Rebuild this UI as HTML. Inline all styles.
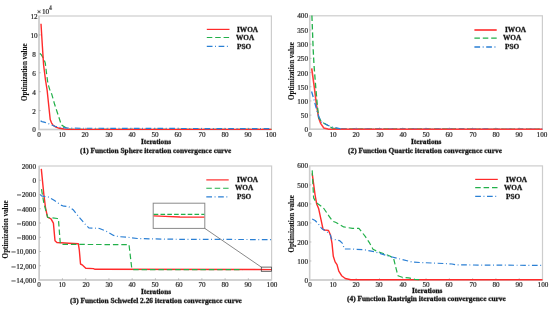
<!DOCTYPE html>
<html><head><meta charset="utf-8"><style>
html,body{margin:0;padding:0;background:#fff;overflow:hidden;width:550px;height:309px;}
#fig{position:relative;width:550px;height:309px;overflow:hidden;}
svg text{font-family:"Liberation Serif", "Times New Roman", serif;fill:#111;}
svg text.t{fill:#262626;stroke:#262626;stroke-width:0.06px;}
svg text.b{font-weight:bold;stroke:#111;stroke-width:0.3px;}
.hb,.ht{position:absolute;white-space:nowrap;font-family:"Liberation Serif", "Times New Roman", serif;line-height:10px;height:10px;will-change:transform;}
.hb{font-weight:bold;color:#111;-webkit-text-stroke:0.3px #111;}
.ht{color:#1e1e1e;-webkit-text-stroke:0.2px #1e1e1e;}
.mn{font-weight:bold;position:relative;top:-1.5px;margin-left:-0.6px;margin-right:0.9px;-webkit-text-stroke:0.35px #262626;}
</style></head><body>
<div id="fig">
<svg width="550" height="309" viewBox="0 0 550 309" style="position:absolute;left:0;top:0">
<rect width="550" height="309" fill="#fff"/>
<rect x="39.0" y="16.0" width="232.40" height="113.50" fill="none" stroke="#cdcdcd" stroke-width="1.2"/>
<path d="M39.0,16.0 V129.5 H271.4" fill="none" stroke="#cdcdcd" stroke-width="1.5"/>
<line x1="62.24" y1="129.5" x2="62.24" y2="127.7" stroke="#aaa" stroke-width="0.7"/>
<line x1="85.48" y1="129.5" x2="85.48" y2="127.7" stroke="#aaa" stroke-width="0.7"/>
<line x1="108.72" y1="129.5" x2="108.72" y2="127.7" stroke="#aaa" stroke-width="0.7"/>
<line x1="131.96" y1="129.5" x2="131.96" y2="127.7" stroke="#aaa" stroke-width="0.7"/>
<line x1="155.20" y1="129.5" x2="155.20" y2="127.7" stroke="#aaa" stroke-width="0.7"/>
<line x1="178.44" y1="129.5" x2="178.44" y2="127.7" stroke="#aaa" stroke-width="0.7"/>
<line x1="201.68" y1="129.5" x2="201.68" y2="127.7" stroke="#aaa" stroke-width="0.7"/>
<line x1="224.92" y1="129.5" x2="224.92" y2="127.7" stroke="#aaa" stroke-width="0.7"/>
<line x1="248.16" y1="129.5" x2="248.16" y2="127.7" stroke="#aaa" stroke-width="0.7"/>
<line x1="39.0" y1="110.58" x2="40.8" y2="110.58" stroke="#aaa" stroke-width="0.7"/>
<line x1="39.0" y1="91.67" x2="40.8" y2="91.67" stroke="#aaa" stroke-width="0.7"/>
<line x1="39.0" y1="72.75" x2="40.8" y2="72.75" stroke="#aaa" stroke-width="0.7"/>
<line x1="39.0" y1="53.83" x2="40.8" y2="53.83" stroke="#aaa" stroke-width="0.7"/>
<line x1="39.0" y1="34.92" x2="40.8" y2="34.92" stroke="#aaa" stroke-width="0.7"/>
<rect x="309.7" y="15.8" width="232.70" height="113.50" fill="none" stroke="#cdcdcd" stroke-width="1.2"/>
<path d="M309.7,15.8 V129.3 H542.4" fill="none" stroke="#cdcdcd" stroke-width="1.5"/>
<line x1="332.97" y1="129.3" x2="332.97" y2="127.50000000000001" stroke="#aaa" stroke-width="0.7"/>
<line x1="356.24" y1="129.3" x2="356.24" y2="127.50000000000001" stroke="#aaa" stroke-width="0.7"/>
<line x1="379.51" y1="129.3" x2="379.51" y2="127.50000000000001" stroke="#aaa" stroke-width="0.7"/>
<line x1="402.78" y1="129.3" x2="402.78" y2="127.50000000000001" stroke="#aaa" stroke-width="0.7"/>
<line x1="426.05" y1="129.3" x2="426.05" y2="127.50000000000001" stroke="#aaa" stroke-width="0.7"/>
<line x1="449.32" y1="129.3" x2="449.32" y2="127.50000000000001" stroke="#aaa" stroke-width="0.7"/>
<line x1="472.59" y1="129.3" x2="472.59" y2="127.50000000000001" stroke="#aaa" stroke-width="0.7"/>
<line x1="495.86" y1="129.3" x2="495.86" y2="127.50000000000001" stroke="#aaa" stroke-width="0.7"/>
<line x1="519.13" y1="129.3" x2="519.13" y2="127.50000000000001" stroke="#aaa" stroke-width="0.7"/>
<line x1="309.7" y1="115.11" x2="311.5" y2="115.11" stroke="#aaa" stroke-width="0.7"/>
<line x1="309.7" y1="100.93" x2="311.5" y2="100.93" stroke="#aaa" stroke-width="0.7"/>
<line x1="309.7" y1="86.74" x2="311.5" y2="86.74" stroke="#aaa" stroke-width="0.7"/>
<line x1="309.7" y1="72.55" x2="311.5" y2="72.55" stroke="#aaa" stroke-width="0.7"/>
<line x1="309.7" y1="58.36" x2="311.5" y2="58.36" stroke="#aaa" stroke-width="0.7"/>
<line x1="309.7" y1="44.17" x2="311.5" y2="44.17" stroke="#aaa" stroke-width="0.7"/>
<line x1="309.7" y1="29.99" x2="311.5" y2="29.99" stroke="#aaa" stroke-width="0.7"/>
<rect x="39.2" y="166.0" width="232.40" height="114.00" fill="none" stroke="#cdcdcd" stroke-width="1.2"/>
<path d="M39.2,166.0 V280.0 H271.6" fill="none" stroke="#cdcdcd" stroke-width="1.5"/>
<line x1="62.44" y1="280.0" x2="62.44" y2="278.2" stroke="#aaa" stroke-width="0.7"/>
<line x1="85.68" y1="280.0" x2="85.68" y2="278.2" stroke="#aaa" stroke-width="0.7"/>
<line x1="108.92" y1="280.0" x2="108.92" y2="278.2" stroke="#aaa" stroke-width="0.7"/>
<line x1="132.16" y1="280.0" x2="132.16" y2="278.2" stroke="#aaa" stroke-width="0.7"/>
<line x1="155.40" y1="280.0" x2="155.40" y2="278.2" stroke="#aaa" stroke-width="0.7"/>
<line x1="178.64" y1="280.0" x2="178.64" y2="278.2" stroke="#aaa" stroke-width="0.7"/>
<line x1="201.88" y1="280.0" x2="201.88" y2="278.2" stroke="#aaa" stroke-width="0.7"/>
<line x1="225.12" y1="280.0" x2="225.12" y2="278.2" stroke="#aaa" stroke-width="0.7"/>
<line x1="248.36" y1="280.0" x2="248.36" y2="278.2" stroke="#aaa" stroke-width="0.7"/>
<line x1="39.2" y1="265.75" x2="41.0" y2="265.75" stroke="#aaa" stroke-width="0.7"/>
<line x1="39.2" y1="251.50" x2="41.0" y2="251.50" stroke="#aaa" stroke-width="0.7"/>
<line x1="39.2" y1="237.25" x2="41.0" y2="237.25" stroke="#aaa" stroke-width="0.7"/>
<line x1="39.2" y1="223.00" x2="41.0" y2="223.00" stroke="#aaa" stroke-width="0.7"/>
<line x1="39.2" y1="208.75" x2="41.0" y2="208.75" stroke="#aaa" stroke-width="0.7"/>
<line x1="39.2" y1="194.50" x2="41.0" y2="194.50" stroke="#aaa" stroke-width="0.7"/>
<line x1="39.2" y1="180.25" x2="41.0" y2="180.25" stroke="#aaa" stroke-width="0.7"/>
<rect x="309.6" y="165.9" width="232.90" height="114.10" fill="none" stroke="#cdcdcd" stroke-width="1.2"/>
<path d="M309.6,165.9 V280.0 H542.5" fill="none" stroke="#cdcdcd" stroke-width="1.5"/>
<line x1="332.89" y1="280.0" x2="332.89" y2="278.2" stroke="#aaa" stroke-width="0.7"/>
<line x1="356.18" y1="280.0" x2="356.18" y2="278.2" stroke="#aaa" stroke-width="0.7"/>
<line x1="379.47" y1="280.0" x2="379.47" y2="278.2" stroke="#aaa" stroke-width="0.7"/>
<line x1="402.76" y1="280.0" x2="402.76" y2="278.2" stroke="#aaa" stroke-width="0.7"/>
<line x1="426.05" y1="280.0" x2="426.05" y2="278.2" stroke="#aaa" stroke-width="0.7"/>
<line x1="449.34" y1="280.0" x2="449.34" y2="278.2" stroke="#aaa" stroke-width="0.7"/>
<line x1="472.63" y1="280.0" x2="472.63" y2="278.2" stroke="#aaa" stroke-width="0.7"/>
<line x1="495.92" y1="280.0" x2="495.92" y2="278.2" stroke="#aaa" stroke-width="0.7"/>
<line x1="519.21" y1="280.0" x2="519.21" y2="278.2" stroke="#aaa" stroke-width="0.7"/>
<line x1="309.6" y1="260.98" x2="311.40000000000003" y2="260.98" stroke="#aaa" stroke-width="0.7"/>
<line x1="309.6" y1="241.97" x2="311.40000000000003" y2="241.97" stroke="#aaa" stroke-width="0.7"/>
<line x1="309.6" y1="222.95" x2="311.40000000000003" y2="222.95" stroke="#aaa" stroke-width="0.7"/>
<line x1="309.6" y1="203.93" x2="311.40000000000003" y2="203.93" stroke="#aaa" stroke-width="0.7"/>
<line x1="309.6" y1="184.92" x2="311.40000000000003" y2="184.92" stroke="#aaa" stroke-width="0.7"/>
<polyline points="40.00,53.50 41.20,54.60 43.80,58.70 45.30,63.10 46.70,74.70 47.90,83.40 49.60,89.20 51.80,94.30 54.60,104.30 58.70,116.70 61.40,125.00 65.60,127.40 68.00,128.90 72.00,129.40 271.40,129.40" fill="none" stroke="#22b04a" stroke-width="1.2" stroke-linejoin="round" stroke-dasharray="5.5,2.9"/>
<polyline points="41.00,23.80 42.30,45.00 43.60,65.00 45.50,80.00 47.10,90.00 50.20,119.50 51.50,122.80 53.20,125.30 56.00,127.20 59.30,128.30 64.00,129.00 68.40,129.30 271.40,129.40" fill="none" stroke="#ff2a2a" stroke-width="1.4" stroke-linejoin="round"/>
<polyline points="40.60,120.90 42.00,121.60 45.00,122.40 48.00,123.40 50.50,124.50 55.00,126.30 60.00,127.40 70.00,128.20 271.40,128.70" fill="none" stroke="#2a7fd4" stroke-width="1.2" stroke-linejoin="round" stroke-dasharray="5.7,2.6,0.9,2.6"/>
<polyline points="332.90,128.40 345.00,128.90 542.40,129.10" fill="none" stroke="#22b04a" stroke-width="1.3" stroke-linejoin="round" stroke-dasharray="5.5,2.9"/>
<polyline points="340.70,128.80 542.40,129.10" fill="none" stroke="#2a7fd4" stroke-width="1.3" stroke-linejoin="round" stroke-dasharray="5.7,2.6,0.9,2.6"/>
<polyline points="311.70,68.40 314.40,88.00 316.50,105.10 318.70,117.90 320.80,123.60 323.70,127.90 327.90,129.10 542.40,129.30" fill="none" stroke="#ff3c3c" stroke-width="1.6" stroke-linejoin="round"/>
<polyline points="311.90,15.60 313.20,50.00 314.00,65.00 315.80,88.00 317.30,105.00 318.70,117.90 322.20,122.20 329.40,126.40 332.90,128.40" fill="none" stroke="#22b04a" stroke-width="1.3" stroke-linejoin="round" stroke-dasharray="5.5,2.9"/>
<polyline points="311.60,91.50 313.70,98.70 315.80,106.50 318.70,116.50 321.50,121.90 327.90,125.30 332.20,127.10 340.70,128.80" fill="none" stroke="#2a7fd4" stroke-width="1.3" stroke-linejoin="round" stroke-dasharray="5.7,2.6,0.9,2.6"/>
<polyline points="41.30,168.90 43.80,194.00 45.50,207.60 47.50,217.20 51.00,218.80 53.40,223.10 55.00,240.80 56.90,242.50 68.70,243.20 78.30,243.70 79.30,250.00 80.50,264.00 82.10,264.80 85.80,268.30 93.40,268.60 95.10,269.30 271.60,269.60" fill="none" stroke="#ff2a2a" stroke-width="1.4" stroke-linejoin="round"/>
<polyline points="41.50,189.20 42.80,197.00 43.80,202.80 45.80,210.50 47.70,217.30 57.40,218.50 58.40,218.70 60.30,243.80 61.00,244.40 129.00,244.60 131.80,268.60 133.00,269.60 242.60,269.70" fill="none" stroke="#22b04a" stroke-width="1.2" stroke-linejoin="round" stroke-dasharray="5.5,2.9"/>
<polyline points="40.30,194.60 41.50,195.90 48.60,197.10 54.50,200.60 58.00,203.00 61.60,205.40 64.00,206.20 68.70,206.50 73.50,210.10 78.20,216.00 85.30,224.30 88.80,227.80 99.50,228.50 106.60,231.40 113.60,235.40 118.40,236.60 127.80,237.30 137.30,238.50 151.50,238.90 180.00,239.30 271.60,239.60" fill="none" stroke="#2a7fd4" stroke-width="1.2" stroke-linejoin="round" stroke-dasharray="5.7,2.6,0.9,2.6"/>
<polyline points="312.20,173.40 315.10,195.00 316.60,203.70 318.70,208.80 323.10,229.30 324.60,230.00 328.50,230.40 330.50,235.10 332.00,243.40 333.30,256.30 335.10,261.90 337.00,264.60 338.80,271.10 341.60,275.70 345.30,278.50 350.80,279.70 542.50,279.80" fill="none" stroke="#ff2a2a" stroke-width="1.4" stroke-linejoin="round"/>
<polyline points="312.20,170.40 313.60,197.90 316.60,203.00 323.10,207.40 329.00,216.10 332.60,221.20 335.50,222.30 343.70,226.90 352.40,228.40 358.90,228.40 362.10,232.40 365.40,236.70 369.70,243.20 373.00,249.30 378.40,251.90 384.90,254.00 390.30,256.20 393.60,258.40 395.70,267.00 397.90,275.70 402.20,277.30 408.80,277.90 415.00,279.40 420.00,279.70" fill="none" stroke="#22b04a" stroke-width="1.2" stroke-linejoin="round" stroke-dasharray="5.5,2.9"/>
<polyline points="312.20,219.00 315.10,220.50 318.00,223.40 321.70,228.50 327.50,232.20 330.40,235.10 331.50,238.80 339.70,240.70 342.50,243.40 344.40,249.00 352.60,249.00 365.00,249.90 374.80,251.80 389.50,256.40 396.90,258.20 411.70,261.90 420.00,262.50 446.00,263.60 452.00,264.00 457.00,264.90 542.50,265.40" fill="none" stroke="#2a7fd4" stroke-width="1.2" stroke-linejoin="round" stroke-dasharray="5.7,2.6,0.9,2.6"/>
<rect x="153.2" y="203.2" width="51.6" height="25.2" fill="#fff" stroke="#8a8a8a" stroke-width="1"/>
<polyline points="153.70,214.40 204.30,214.40" fill="none" stroke="#22b04a" stroke-width="1.2" stroke-linejoin="round" stroke-dasharray="4.6,2.2"/>
<polyline points="153.70,215.90 165.00,216.40 180.00,217.00 204.30,217.10" fill="none" stroke="#ff2a2a" stroke-width="1.4" stroke-linejoin="round"/>
<rect x="261.3" y="267.1" width="10.3" height="4.2" fill="none" stroke="#444" stroke-width="0.8"/>
<line x1="204.8" y1="228.4" x2="261.3" y2="267.1" stroke="#555" stroke-width="0.7"/>
<polyline points="206.80,29.40 229.50,29.40" fill="none" stroke="#ff2a2a" stroke-width="1.2" stroke-linejoin="round"/>
<polyline points="206.80,37.50 229.50,37.50" fill="none" stroke="#22b04a" stroke-width="1.1" stroke-linejoin="round" stroke-dasharray="5.5,2.9"/>
<polyline points="206.80,46.40 229.50,46.40" fill="none" stroke="#2a7fd4" stroke-width="1.1" stroke-linejoin="round" stroke-dasharray="5.7,2.6,0.9,2.6"/>
<polyline points="474.40,30.00 496.70,30.00" fill="none" stroke="#ff2a2a" stroke-width="1.6" stroke-linejoin="round"/>
<polyline points="474.40,38.10 496.70,38.10" fill="none" stroke="#22b04a" stroke-width="1.3" stroke-linejoin="round" stroke-dasharray="5.5,2.9"/>
<polyline points="474.40,47.00 496.70,47.00" fill="none" stroke="#2a7fd4" stroke-width="1.3" stroke-linejoin="round" stroke-dasharray="5.7,2.6,0.9,2.6"/>
<polyline points="206.30,179.90 228.70,179.90" fill="none" stroke="#ff2a2a" stroke-width="1.2" stroke-linejoin="round"/>
<polyline points="206.30,188.30 228.70,188.30" fill="none" stroke="#22b04a" stroke-width="1.1" stroke-linejoin="round" stroke-dasharray="5.5,2.9"/>
<polyline points="206.30,196.90 228.70,196.90" fill="none" stroke="#2a7fd4" stroke-width="1.1" stroke-linejoin="round" stroke-dasharray="5.7,2.6,0.9,2.6"/>
<polyline points="475.20,179.40 497.80,179.40" fill="none" stroke="#ff2a2a" stroke-width="1.2" stroke-linejoin="round"/>
<polyline points="475.20,187.60 497.80,187.60" fill="none" stroke="#22b04a" stroke-width="1.1" stroke-linejoin="round" stroke-dasharray="5.5,2.9"/>
<polyline points="475.20,196.40 497.80,196.40" fill="none" stroke="#2a7fd4" stroke-width="1.1" stroke-linejoin="round" stroke-dasharray="5.7,2.6,0.9,2.6"/>
<text class="b" style="stroke-width:0.1px" x="0" y="0" transform="translate(27.3,101.00) rotate(-90)" font-size="7.2" textLength="57.60" lengthAdjust="spacing">Optimization value</text>
<text class="b" style="stroke-width:0.1px" x="0" y="0" transform="translate(293.6,100.00) rotate(-90)" font-size="7.2" textLength="58.00" lengthAdjust="spacing">Optimization value</text>
<text class="b" style="stroke-width:0.1px" x="0" y="0" transform="translate(8.3,258.40) rotate(-90)" font-size="7.2" textLength="58.00" lengthAdjust="spacing">Optimization value</text>
<text class="b" style="stroke-width:0.1px" x="0" y="0" transform="translate(294.2,252.60) rotate(-90)" font-size="7.2" textLength="57.60" lengthAdjust="spacing">Optimization value</text>
</svg>
<div class="ht" style="left:-21.00px;top:129.67px;width:120px;text-align:center;font-size:7.2px;letter-spacing:0px;transform-origin:60.0px 7.43px;transform:scale(1.0,0.85);">0</div>
<div class="ht" style="left:2.24px;top:129.67px;width:120px;text-align:center;font-size:7.2px;letter-spacing:0px;transform-origin:60.0px 7.43px;transform:scale(1.0,0.85);">10</div>
<div class="ht" style="left:25.48px;top:129.67px;width:120px;text-align:center;font-size:7.2px;letter-spacing:0px;transform-origin:60.0px 7.43px;transform:scale(1.0,0.85);">20</div>
<div class="ht" style="left:48.72px;top:129.67px;width:120px;text-align:center;font-size:7.2px;letter-spacing:0px;transform-origin:60.0px 7.43px;transform:scale(1.0,0.85);">30</div>
<div class="ht" style="left:71.96px;top:129.67px;width:120px;text-align:center;font-size:7.2px;letter-spacing:0px;transform-origin:60.0px 7.43px;transform:scale(1.0,0.85);">40</div>
<div class="ht" style="left:95.20px;top:129.67px;width:120px;text-align:center;font-size:7.2px;letter-spacing:0px;transform-origin:60.0px 7.43px;transform:scale(1.0,0.85);">50</div>
<div class="ht" style="left:118.44px;top:129.67px;width:120px;text-align:center;font-size:7.2px;letter-spacing:0px;transform-origin:60.0px 7.43px;transform:scale(1.0,0.85);">60</div>
<div class="ht" style="left:141.68px;top:129.67px;width:120px;text-align:center;font-size:7.2px;letter-spacing:0px;transform-origin:60.0px 7.43px;transform:scale(1.0,0.85);">70</div>
<div class="ht" style="left:164.92px;top:129.67px;width:120px;text-align:center;font-size:7.2px;letter-spacing:0px;transform-origin:60.0px 7.43px;transform:scale(1.0,0.85);">80</div>
<div class="ht" style="left:188.16px;top:129.67px;width:120px;text-align:center;font-size:7.2px;letter-spacing:0px;transform-origin:60.0px 7.43px;transform:scale(1.0,0.85);">90</div>
<div class="ht" style="left:211.40px;top:129.67px;width:120px;text-align:center;font-size:7.2px;letter-spacing:0px;transform-origin:60.0px 7.43px;transform:scale(1.0,0.85);">100</div>
<div class="ht" style="left:-26.40px;top:125.47px;width:120px;text-align:center;font-size:7.2px;letter-spacing:0px;transform-origin:60.0px 7.43px;transform:scale(1.0,0.85);">0</div>
<div class="ht" style="left:-26.40px;top:106.55px;width:120px;text-align:center;font-size:7.2px;letter-spacing:0px;transform-origin:60.0px 7.43px;transform:scale(1.0,0.85);">2</div>
<div class="ht" style="left:-26.40px;top:87.64px;width:120px;text-align:center;font-size:7.2px;letter-spacing:0px;transform-origin:60.0px 7.43px;transform:scale(1.0,0.85);">4</div>
<div class="ht" style="left:-26.40px;top:68.72px;width:120px;text-align:center;font-size:7.2px;letter-spacing:0px;transform-origin:60.0px 7.43px;transform:scale(1.0,0.85);">6</div>
<div class="ht" style="left:-26.40px;top:49.80px;width:120px;text-align:center;font-size:7.2px;letter-spacing:0px;transform-origin:60.0px 7.43px;transform:scale(1.0,0.85);">8</div>
<div class="ht" style="left:-26.40px;top:30.89px;width:120px;text-align:center;font-size:7.2px;letter-spacing:0px;transform-origin:60.0px 7.43px;transform:scale(1.0,0.85);">10</div>
<div class="ht" style="left:-26.40px;top:11.87px;width:120px;text-align:center;font-size:7.2px;letter-spacing:0px;transform-origin:60.0px 7.43px;transform:scale(1.0,0.85);">12</div>
<div class="ht" style="left:249.70px;top:129.87px;width:120px;text-align:center;font-size:7.2px;letter-spacing:0px;transform-origin:60.0px 7.43px;transform:scale(1.0,0.85);">0</div>
<div class="ht" style="left:272.97px;top:129.87px;width:120px;text-align:center;font-size:7.2px;letter-spacing:0px;transform-origin:60.0px 7.43px;transform:scale(1.0,0.85);">10</div>
<div class="ht" style="left:296.24px;top:129.87px;width:120px;text-align:center;font-size:7.2px;letter-spacing:0px;transform-origin:60.0px 7.43px;transform:scale(1.0,0.85);">20</div>
<div class="ht" style="left:319.51px;top:129.87px;width:120px;text-align:center;font-size:7.2px;letter-spacing:0px;transform-origin:60.0px 7.43px;transform:scale(1.0,0.85);">30</div>
<div class="ht" style="left:342.78px;top:129.87px;width:120px;text-align:center;font-size:7.2px;letter-spacing:0px;transform-origin:60.0px 7.43px;transform:scale(1.0,0.85);">40</div>
<div class="ht" style="left:366.05px;top:129.87px;width:120px;text-align:center;font-size:7.2px;letter-spacing:0px;transform-origin:60.0px 7.43px;transform:scale(1.0,0.85);">50</div>
<div class="ht" style="left:389.32px;top:129.87px;width:120px;text-align:center;font-size:7.2px;letter-spacing:0px;transform-origin:60.0px 7.43px;transform:scale(1.0,0.85);">60</div>
<div class="ht" style="left:412.59px;top:129.87px;width:120px;text-align:center;font-size:7.2px;letter-spacing:0px;transform-origin:60.0px 7.43px;transform:scale(1.0,0.85);">70</div>
<div class="ht" style="left:435.86px;top:129.87px;width:120px;text-align:center;font-size:7.2px;letter-spacing:0px;transform-origin:60.0px 7.43px;transform:scale(1.0,0.85);">80</div>
<div class="ht" style="left:459.13px;top:129.87px;width:120px;text-align:center;font-size:7.2px;letter-spacing:0px;transform-origin:60.0px 7.43px;transform:scale(1.0,0.85);">90</div>
<div class="ht" style="left:482.40px;top:129.87px;width:120px;text-align:center;font-size:7.2px;letter-spacing:0px;transform-origin:60.0px 7.43px;transform:scale(1.0,0.85);">100</div>
<div class="ht" style="left:187.90px;top:125.27px;width:120px;text-align:right;font-size:7.2px;letter-spacing:0px;transform-origin:120px 7.43px;transform:scale(1.0,0.85);">0</div>
<div class="ht" style="left:187.90px;top:111.08px;width:120px;text-align:right;font-size:7.2px;letter-spacing:0px;transform-origin:120px 7.43px;transform:scale(1.0,0.85);">50</div>
<div class="ht" style="left:187.90px;top:96.90px;width:120px;text-align:right;font-size:7.2px;letter-spacing:0px;transform-origin:120px 7.43px;transform:scale(1.0,0.85);">100</div>
<div class="ht" style="left:187.90px;top:82.71px;width:120px;text-align:right;font-size:7.2px;letter-spacing:0px;transform-origin:120px 7.43px;transform:scale(1.0,0.85);">150</div>
<div class="ht" style="left:187.90px;top:68.52px;width:120px;text-align:right;font-size:7.2px;letter-spacing:0px;transform-origin:120px 7.43px;transform:scale(1.0,0.85);">200</div>
<div class="ht" style="left:187.90px;top:54.33px;width:120px;text-align:right;font-size:7.2px;letter-spacing:0px;transform-origin:120px 7.43px;transform:scale(1.0,0.85);">250</div>
<div class="ht" style="left:187.90px;top:40.14px;width:120px;text-align:right;font-size:7.2px;letter-spacing:0px;transform-origin:120px 7.43px;transform:scale(1.0,0.85);">300</div>
<div class="ht" style="left:187.90px;top:25.96px;width:120px;text-align:right;font-size:7.2px;letter-spacing:0px;transform-origin:120px 7.43px;transform:scale(1.0,0.85);">350</div>
<div class="ht" style="left:187.90px;top:11.17px;width:120px;text-align:right;font-size:7.2px;letter-spacing:0px;transform-origin:120px 7.43px;transform:scale(1.0,0.85);">400</div>
<div class="ht" style="left:-20.80px;top:279.67px;width:120px;text-align:center;font-size:7.2px;letter-spacing:0px;transform-origin:60.0px 7.43px;transform:scale(1.0,0.85);">0</div>
<div class="ht" style="left:2.44px;top:279.67px;width:120px;text-align:center;font-size:7.2px;letter-spacing:0px;transform-origin:60.0px 7.43px;transform:scale(1.0,0.85);">10</div>
<div class="ht" style="left:25.68px;top:279.67px;width:120px;text-align:center;font-size:7.2px;letter-spacing:0px;transform-origin:60.0px 7.43px;transform:scale(1.0,0.85);">20</div>
<div class="ht" style="left:48.92px;top:279.67px;width:120px;text-align:center;font-size:7.2px;letter-spacing:0px;transform-origin:60.0px 7.43px;transform:scale(1.0,0.85);">30</div>
<div class="ht" style="left:72.16px;top:279.67px;width:120px;text-align:center;font-size:7.2px;letter-spacing:0px;transform-origin:60.0px 7.43px;transform:scale(1.0,0.85);">40</div>
<div class="ht" style="left:95.40px;top:279.67px;width:120px;text-align:center;font-size:7.2px;letter-spacing:0px;transform-origin:60.0px 7.43px;transform:scale(1.0,0.85);">50</div>
<div class="ht" style="left:118.64px;top:279.67px;width:120px;text-align:center;font-size:7.2px;letter-spacing:0px;transform-origin:60.0px 7.43px;transform:scale(1.0,0.85);">60</div>
<div class="ht" style="left:141.88px;top:279.67px;width:120px;text-align:center;font-size:7.2px;letter-spacing:0px;transform-origin:60.0px 7.43px;transform:scale(1.0,0.85);">70</div>
<div class="ht" style="left:165.12px;top:279.67px;width:120px;text-align:center;font-size:7.2px;letter-spacing:0px;transform-origin:60.0px 7.43px;transform:scale(1.0,0.85);">80</div>
<div class="ht" style="left:188.36px;top:279.67px;width:120px;text-align:center;font-size:7.2px;letter-spacing:0px;transform-origin:60.0px 7.43px;transform:scale(1.0,0.85);">90</div>
<div class="ht" style="left:211.60px;top:279.67px;width:120px;text-align:center;font-size:7.2px;letter-spacing:0px;transform-origin:60.0px 7.43px;transform:scale(1.0,0.85);">100</div>
<div class="ht" style="left:-83.70px;top:275.97px;width:120px;text-align:right;font-size:7.2px;letter-spacing:0px;transform-origin:120px 7.43px;transform:scale(1.0,0.85);"><span class="mn">–</span>14,000</div>
<div class="ht" style="left:-83.70px;top:261.72px;width:120px;text-align:right;font-size:7.2px;letter-spacing:0px;transform-origin:120px 7.43px;transform:scale(1.0,0.85);"><span class="mn">–</span>12,000</div>
<div class="ht" style="left:-83.70px;top:247.47px;width:120px;text-align:right;font-size:7.2px;letter-spacing:0px;transform-origin:120px 7.43px;transform:scale(1.0,0.85);"><span class="mn">–</span>10,000</div>
<div class="ht" style="left:-83.70px;top:233.22px;width:120px;text-align:right;font-size:7.2px;letter-spacing:0px;transform-origin:120px 7.43px;transform:scale(1.0,0.85);"><span class="mn">–</span>8000</div>
<div class="ht" style="left:-83.70px;top:218.97px;width:120px;text-align:right;font-size:7.2px;letter-spacing:0px;transform-origin:120px 7.43px;transform:scale(1.0,0.85);"><span class="mn">–</span>6000</div>
<div class="ht" style="left:-83.70px;top:204.72px;width:120px;text-align:right;font-size:7.2px;letter-spacing:0px;transform-origin:120px 7.43px;transform:scale(1.0,0.85);"><span class="mn">–</span>4000</div>
<div class="ht" style="left:-83.70px;top:190.47px;width:120px;text-align:right;font-size:7.2px;letter-spacing:0px;transform-origin:120px 7.43px;transform:scale(1.0,0.85);"><span class="mn">–</span>2000</div>
<div class="ht" style="left:-83.70px;top:176.22px;width:120px;text-align:right;font-size:7.2px;letter-spacing:0px;transform-origin:120px 7.43px;transform:scale(1.0,0.85);">0</div>
<div class="ht" style="left:-83.70px;top:162.27px;width:120px;text-align:right;font-size:7.2px;letter-spacing:0px;transform-origin:120px 7.43px;transform:scale(1.0,0.85);">2000</div>
<div class="ht" style="left:249.60px;top:279.77px;width:120px;text-align:center;font-size:7.2px;letter-spacing:0px;transform-origin:60.0px 7.43px;transform:scale(1.0,0.85);">0</div>
<div class="ht" style="left:272.89px;top:279.77px;width:120px;text-align:center;font-size:7.2px;letter-spacing:0px;transform-origin:60.0px 7.43px;transform:scale(1.0,0.85);">10</div>
<div class="ht" style="left:296.18px;top:279.77px;width:120px;text-align:center;font-size:7.2px;letter-spacing:0px;transform-origin:60.0px 7.43px;transform:scale(1.0,0.85);">20</div>
<div class="ht" style="left:319.47px;top:279.77px;width:120px;text-align:center;font-size:7.2px;letter-spacing:0px;transform-origin:60.0px 7.43px;transform:scale(1.0,0.85);">30</div>
<div class="ht" style="left:342.76px;top:279.77px;width:120px;text-align:center;font-size:7.2px;letter-spacing:0px;transform-origin:60.0px 7.43px;transform:scale(1.0,0.85);">40</div>
<div class="ht" style="left:366.05px;top:279.77px;width:120px;text-align:center;font-size:7.2px;letter-spacing:0px;transform-origin:60.0px 7.43px;transform:scale(1.0,0.85);">50</div>
<div class="ht" style="left:389.34px;top:279.77px;width:120px;text-align:center;font-size:7.2px;letter-spacing:0px;transform-origin:60.0px 7.43px;transform:scale(1.0,0.85);">60</div>
<div class="ht" style="left:412.63px;top:279.77px;width:120px;text-align:center;font-size:7.2px;letter-spacing:0px;transform-origin:60.0px 7.43px;transform:scale(1.0,0.85);">70</div>
<div class="ht" style="left:435.92px;top:279.77px;width:120px;text-align:center;font-size:7.2px;letter-spacing:0px;transform-origin:60.0px 7.43px;transform:scale(1.0,0.85);">80</div>
<div class="ht" style="left:459.21px;top:279.77px;width:120px;text-align:center;font-size:7.2px;letter-spacing:0px;transform-origin:60.0px 7.43px;transform:scale(1.0,0.85);">90</div>
<div class="ht" style="left:482.50px;top:279.77px;width:120px;text-align:center;font-size:7.2px;letter-spacing:0px;transform-origin:60.0px 7.43px;transform:scale(1.0,0.85);">100</div>
<div class="ht" style="left:188.20px;top:275.97px;width:120px;text-align:right;font-size:7.2px;letter-spacing:0px;transform-origin:120px 7.43px;transform:scale(1.0,0.85);">0</div>
<div class="ht" style="left:188.20px;top:256.95px;width:120px;text-align:right;font-size:7.2px;letter-spacing:0px;transform-origin:120px 7.43px;transform:scale(1.0,0.85);">100</div>
<div class="ht" style="left:188.20px;top:237.94px;width:120px;text-align:right;font-size:7.2px;letter-spacing:0px;transform-origin:120px 7.43px;transform:scale(1.0,0.85);">200</div>
<div class="ht" style="left:188.20px;top:218.92px;width:120px;text-align:right;font-size:7.2px;letter-spacing:0px;transform-origin:120px 7.43px;transform:scale(1.0,0.85);">300</div>
<div class="ht" style="left:188.20px;top:199.90px;width:120px;text-align:right;font-size:7.2px;letter-spacing:0px;transform-origin:120px 7.43px;transform:scale(1.0,0.85);">400</div>
<div class="ht" style="left:188.20px;top:180.89px;width:120px;text-align:right;font-size:7.2px;letter-spacing:0px;transform-origin:120px 7.43px;transform:scale(1.0,0.85);">500</div>
<div class="ht" style="left:188.20px;top:161.47px;width:120px;text-align:right;font-size:7.2px;letter-spacing:0px;transform-origin:120px 7.43px;transform:scale(1.0,0.85);">600</div>
<div class="hb" style="left:236.90px;top:24.54px;width:120px;text-align:left;font-size:7.3px;letter-spacing:0px;transform-origin:0px 7.46px;transform:scale(1.0,0.87);">IWOA</div>
<div class="hb" style="left:235.80px;top:32.64px;width:120px;text-align:left;font-size:7.3px;letter-spacing:0px;transform-origin:0px 7.46px;transform:scale(1.0,0.87);">WOA</div>
<div class="hb" style="left:236.60px;top:41.54px;width:120px;text-align:left;font-size:7.3px;letter-spacing:0px;transform-origin:0px 7.46px;transform:scale(1.0,0.87);">PSO</div>
<div class="hb" style="left:504.80px;top:25.14px;width:120px;text-align:left;font-size:7.3px;letter-spacing:0px;transform-origin:0px 7.46px;transform:scale(1.0,0.87);">IWOA</div>
<div class="hb" style="left:503.30px;top:33.24px;width:120px;text-align:left;font-size:7.3px;letter-spacing:0px;transform-origin:0px 7.46px;transform:scale(1.0,0.87);">WOA</div>
<div class="hb" style="left:504.80px;top:42.14px;width:120px;text-align:left;font-size:7.3px;letter-spacing:0px;transform-origin:0px 7.46px;transform:scale(1.0,0.87);">PSO</div>
<div class="hb" style="left:236.70px;top:175.04px;width:120px;text-align:left;font-size:7.3px;letter-spacing:0px;transform-origin:0px 7.46px;transform:scale(1.0,0.87);">IWOA</div>
<div class="hb" style="left:235.20px;top:183.44px;width:120px;text-align:left;font-size:7.3px;letter-spacing:0px;transform-origin:0px 7.46px;transform:scale(1.0,0.87);">WOA</div>
<div class="hb" style="left:236.70px;top:192.04px;width:120px;text-align:left;font-size:7.3px;letter-spacing:0px;transform-origin:0px 7.46px;transform:scale(1.0,0.87);">PSO</div>
<div class="hb" style="left:505.50px;top:174.54px;width:120px;text-align:left;font-size:7.3px;letter-spacing:0px;transform-origin:0px 7.46px;transform:scale(1.0,0.87);">IWOA</div>
<div class="hb" style="left:504.40px;top:182.74px;width:120px;text-align:left;font-size:7.3px;letter-spacing:0px;transform-origin:0px 7.46px;transform:scale(1.0,0.87);">WOA</div>
<div class="hb" style="left:505.50px;top:191.54px;width:120px;text-align:left;font-size:7.3px;letter-spacing:0px;transform-origin:0px 7.46px;transform:scale(1.0,0.87);">PSO</div>
<div class="hb" style="left:140.80px;top:137.47px;width:120px;text-align:left;font-size:7.2px;letter-spacing:0px;transform-origin:0px 7.43px;transform:scale(0.9999999999999998,0.87);">Iterations</div>
<div class="hb" style="left:79.60px;top:146.36px;width:120px;text-align:left;font-size:7.37px;letter-spacing:0.0px;transform-origin:0px 7.49px;transform:scale(1.0,0.87);">(1) Function Sphere iteration convergence curve</div>
<div class="hb" style="left:410.70px;top:136.87px;width:120px;text-align:left;font-size:7.2px;letter-spacing:0px;transform-origin:0px 7.43px;transform:scale(1.0168918918918926,0.87);">Iterations</div>
<div class="hb" style="left:348.20px;top:145.81px;width:120px;text-align:left;font-size:7.37px;letter-spacing:0.0px;transform-origin:0px 7.49px;transform:scale(1.0,0.87);">(2) Function Quartic iteration convergence curve</div>
<div class="hb" style="left:141.30px;top:286.77px;width:120px;text-align:left;font-size:7.2px;letter-spacing:0px;transform-origin:0px 7.43px;transform:scale(1.0033783783783778,0.87);">Iterations</div>
<div class="hb" style="left:69.70px;top:295.51px;width:120px;text-align:left;font-size:7.37px;letter-spacing:0.0px;transform-origin:0px 7.49px;transform:scale(1.0,0.87);">(3) Function Schwefel 2.26 iteration convergence curve</div>
<div class="hb" style="left:411.60px;top:286.47px;width:120px;text-align:left;font-size:7.2px;letter-spacing:0px;transform-origin:0px 7.43px;transform:scale(1.0168918918918908,0.87);">Iterations</div>
<div class="hb" style="left:347.00px;top:294.31px;width:120px;text-align:left;font-size:7.37px;letter-spacing:0.0px;transform-origin:0px 7.49px;transform:scale(1.0,0.87);">(4) Function Rastrigin iteration convergence curve</div>
<div class="ht" style="left:36.80px;top:7.17px;width:120px;text-align:left;font-size:7.2px;letter-spacing:0px;transform-origin:0px 7.43px;transform:scale(1.0,0.85);">×</div>
<div class="ht" style="left:41.80px;top:7.17px;width:120px;text-align:left;font-size:7.2px;letter-spacing:0px;transform-origin:0px 7.43px;transform:scale(1.0,0.85);">10</div>
<div class="hb" style="left:49.30px;top:2.57px;width:120px;text-align:left;font-size:7.2px;letter-spacing:0px;transform-origin:0px 7.43px;transform:scale(0.8,0.8);-webkit-text-stroke-width:0.1px;color:#262626">4</div>
</div>
</body></html>
